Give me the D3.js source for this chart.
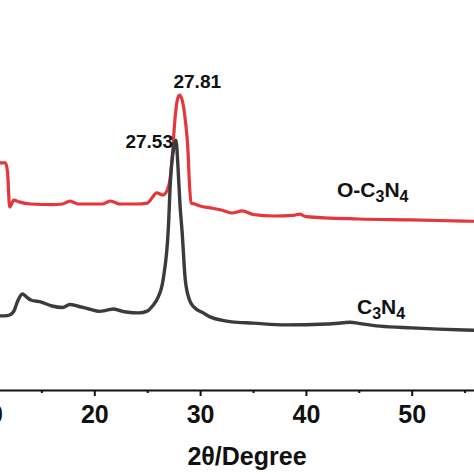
<!DOCTYPE html>
<html>
<head>
<meta charset="utf-8">
<script src="https://cdn.jsdelivr.net/npm/d3@7"></script>
<style>
  body { margin: 0; background: #fff; }
  svg { display: block; font-family: "Liberation Sans", Arial, sans-serif; font-weight: bold; }
</style>
</head>
<body>
<svg id="chart" width="474" height="474"></svg>
<script>
// 2θ (degrees) sampled along both patterns
const ocnAngle = [10.0, 11.6, 11.8, 12.0, 12.4, 12.9, 14.0, 16.0, 17.0, 17.4, 17.7, 18.0, 18.5, 20.0, 20.8,
    21.2, 21.5, 21.9, 22.4, 24.0, 25.0, 25.3, 25.9, 26.5, 26.9, 27.15, 27.35, 27.6, 27.85, 28.05, 28.3,
    28.6, 28.85, 29.0, 29.15, 29.5, 30.0, 31.0, 32.0, 33.0, 34.0, 35.0, 37.0, 38.8, 39.4, 40.0, 45.0,
    50.0, 55.0, 60.0];
// O-C3N4 intensity (a.u.)
const ocnIntensity = [757, 757, 727, 610, 633, 627, 620, 618, 620, 626, 630, 626, 620, 620, 620,
    626, 630, 626, 620, 620, 623, 633, 657, 650, 667, 700, 767, 893, 967, 983, 967,
    900, 800, 683, 623, 620, 613, 607, 600, 590, 597, 585, 580, 582, 586, 578, 570,
    567, 563, 560];

const cnAngle = [10.0, 11.5, 12.0, 12.4, 12.8, 13.2, 13.6, 14.0, 15.0, 16.0, 17.0, 17.7, 18.4, 19.5, 20.5,
    21.2, 21.8, 22.4, 23.0, 24.2, 25.0, 25.5, 26.0, 26.5, 27.0, 27.2, 27.5, 27.72, 27.9, 28.1, 28.3,
    28.6, 29.0, 29.4, 30.3, 31.0, 32.0, 33.0, 35.0, 38.0, 42.0, 43.5, 44.2, 45.0, 47.0, 50.0, 55.0, 60.0];
// C3N4 intensity (a.u.)
const cnIntensity = [247, 247, 250, 263, 300, 320, 310, 300, 293, 280, 275, 285, 280, 270, 262,
    266, 270, 265, 260, 257, 263, 280, 307, 367, 540, 700, 807, 833, 750, 617, 527,
    367, 300, 277, 257, 243, 233, 227, 223, 217, 220, 224, 226, 222, 213, 207, 200, 197];

const majorTicks = [10, 20, 30, 40, 50];
const minorTicks = [15, 25, 35, 45, 55];
const peakLabels = ["27.81", "27.53"];
const seriesNames = ["O-C3N4", "C3N4"];

let svg = d3.select("#chart");

// x scale: the picture is a crop, 10° sits just off the left edge
let x = d3.scaleLinear().domain([10, 60]).range([-11.5, 517.5]);
let y = d3.scaleLinear().domain([0, 1000]).range([390, 90]);

let line = d3.line()
    .x(function(d) { return x(d[0]); })
    .y(function(d) { return y(d[1]); })
    .curve(d3.curveMonotoneX);

let ocnData = d3.zip(ocnAngle, ocnIntensity);
let cnData = d3.zip(cnAngle, cnIntensity);

// Patterns
svg.append("path")
    .datum(ocnData)
    .attr("d", line)
    .style("fill", "none")
    .style("stroke", "#e3373b")
    .style("stroke-width", 3.2)
    .style("stroke-linejoin", "round");

svg.append("path")
    .datum(cnData)
    .attr("d", line)
    .style("fill", "none")
    .style("stroke", "#3b3b3b")
    .style("stroke-width", 3.4)
    .style("stroke-linejoin", "round");

// X axis with major and minor ticks
let axisG = svg.append("g").attr("transform", "translate(0," + y(0) + ")");
axisG.call(d3.axisBottom(x).tickValues(majorTicks).tickSize(6).tickSizeOuter(0).tickPadding(9));
axisG.append("g").call(d3.axisBottom(x).tickValues(minorTicks).tickSize(3).tickFormat(""))
    .select(".domain").remove();
axisG.selectAll("path, line").style("stroke", "#111").style("stroke-width", 2);
axisG.selectAll("text")
    .style("font-size", "25px")
    .style("font-weight", "bold")
    .style("font-family", "'Liberation Sans', Arial, sans-serif")
    .style("fill", "#111");

svg.append("text")
    .attr("x", 247)
    .attr("y", 465)
    .attr("text-anchor", "middle")
    .style("font-size", "25px")
    .style("fill", "#111")
    .text("2θ/Degree");

// Peak labels, placed next to each maximum
let ocnPeak = ocnData[d3.maxIndex(ocnIntensity)];
let cnPeak = cnData[d3.maxIndex(cnIntensity)];

svg.append("text")
    .attr("x", x(ocnPeak[0]) - 6)
    .attr("y", y(ocnPeak[1]) - 7)
    .style("font-size", "19px")
    .style("fill", "#111")
    .text(peakLabels[0]);

svg.append("text")
    .attr("x", x(cnPeak[0]) - 3)
    .attr("y", y(cnPeak[1]) + 8)
    .attr("text-anchor", "end")
    .style("font-size", "19px")
    .style("fill", "#111")
    .text(peakLabels[1]);

// Series names with subscripted digits
function chemLabel(name, xd, yd) {
    let t = svg.append("text")
        .attr("x", x(xd))
        .attr("y", y(yd))
        .style("font-size", "21px")
        .style("fill", "#111");
    name.split(/(\d)/).filter(function(s) { return s.length; }).forEach(function(part) {
        if (/\d/.test(part)) {
            t.append("tspan").attr("dy", 5).style("font-size", "16px").text(part);
        } else {
            let ts = t.append("tspan").text(part);
            if (t.selectAll("tspan").size() > 1) ts.attr("dy", -5);
        }
    });
}

chemLabel(seriesNames[0], 42.94, 643);
chemLabel(seriesNames[1], 44.83, 253);
</script>
</body>
</html>
